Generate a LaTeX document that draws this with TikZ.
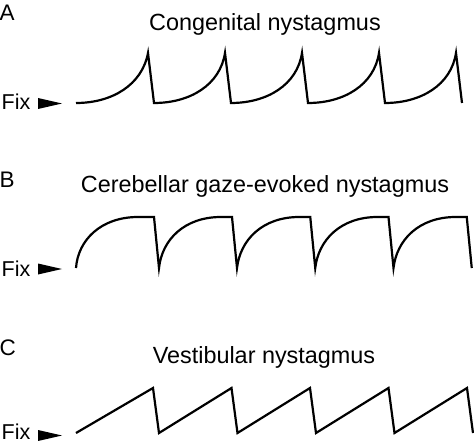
\documentclass[tikz,border=0pt]{standalone}
\usepackage{fontspec}
\setmainfont{Liberation Sans}
\begin{document}
\begin{tikzpicture}[x=1pt,y=-1pt,
  wave/.style={line width=2.2pt,line join=miter,miter limit=20},
  ttl/.style={anchor=base,inner sep=0pt,font=\fontsize{23.4}{27}\selectfont},
  letter/.style={anchor=base west,inner sep=0pt,font=\fontsize{22.5}{26}\selectfont},
  fixlbl/.style={anchor=base east,inner sep=0pt,font=\fontsize{21.5}{25}\selectfont},
  tri/.style={fill=black}]
\useasboundingbox (0,0) rectangle (474,441);
% Panel A
\node[letter] (la) at (-0.5,20.5) {A};
\node[ttl] (ta) at (265,30.5) {Congenital nystagmus};
\node[fixlbl] (fa) at (30.5,110) {Fix};
\fill[tri] (38,98) -- (62,103.5) -- (38,109) -- cycle;
\draw[wave] (76,103) .. controls (112,103) and (142,85) .. (148,53) -- (154,103)
  \foreach \b in {154,231,308,385} {
    .. controls (\b+36,103) and (\b+66,85) .. (\b+71,53) -- (\b+77,103)
  };
% Panel B
\node[letter] (lb) at (-0.5,187) {B};
\node[ttl] (tb) at (265,193) {Cerebellar gaze-evoked nystagmus};
\node[fixlbl] (fb) at (30.5,276.5) {Fix};
\fill[tri] (38,263.5) -- (62,269) -- (38,274.5) -- cycle;
\draw[wave] (76,268) .. controls (78,240) and (101,217) .. (138,217) -- (154,217) -- (159,268)
  \foreach \b in {159,237.25,315.5,393.75} {
    .. controls (\b+3,240) and (\b+25,217) .. (\b+62,217) -- (\b+73,217) -- (\b+78,268)
  };
% Panel C
\node[letter] (lc) at (-0.5,355) {C};
\node[ttl] (tc) at (264,363) {Vestibular nystagmus};
\node[fixlbl] (fc) at (30.5,439.3) {Fix};
\fill[tri] (38,430) -- (62,435.5) -- (38,441) -- cycle;
\draw[wave] (76,433) -- (153,388) -- (159,433)
  \foreach \b in {159,237.5,316,394.5} {
    -- (\b+72.5,388) -- (\b+78.5,433)
  };
\end{tikzpicture}
\end{document}
